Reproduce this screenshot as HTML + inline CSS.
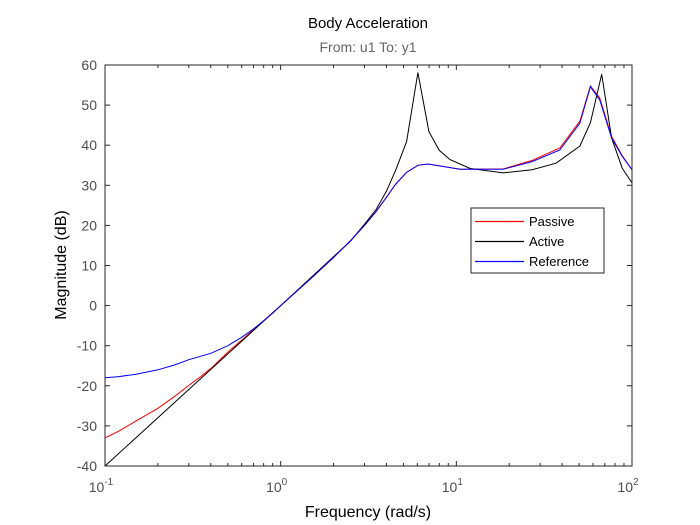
<!DOCTYPE html>
<html><head><meta charset="utf-8"><style>
body{margin:0;background:#fff;}
svg{display:block;font-family:"Liberation Sans",sans-serif;}
</style></head><body>
<svg id="chart" width="700" height="525">
<rect width="700" height="525" fill="#fff"/>
<text x="368" y="28" text-anchor="middle" font-size="15" fill="#000">Body Acceleration</text>
<text x="368" y="52" text-anchor="middle" font-size="14" fill="#666">From: u1  To: y1</text>
<g id="series"></g>
<rect x="105" y="65" width="527" height="401" fill="none" stroke="#262626" stroke-width="1"/>
<g id="ticks"></g>
<text x="368" y="517" text-anchor="middle" font-size="16" fill="#000">Frequency  (rad/s)</text>
<text transform="translate(66,265) rotate(-90)" text-anchor="middle" font-size="16" fill="#000">Magnitude (dB)</text>
<g>
<rect x="471" y="208" width="133" height="65" fill="#fff" stroke="#262626"/>
<path d="M475 221.5H524" style="stroke:#ff0000;stroke-width:1.2;fill:none"/>
<text x="529" y="226" font-size="13">Passive</text>
<path d="M475 241.5H524" style="stroke:#000000;stroke-width:1.2;fill:none"/>
<text x="529" y="246" font-size="13">Active</text>
<path d="M475 261.5H524" style="stroke:#0000ff;stroke-width:1.2;fill:none"/>
<text x="529" y="266" font-size="13">Reference</text>
</g>
</svg>
<script>
const yTicks=[-40,-30,-20,-10,0,10,20,30,40,50,60];
const xDecades=[-1,0,1,2];
const passiveFreq=[0.1,0.12,0.15,0.2,0.25,0.3,0.35,0.41,0.5,0.6,0.7,0.8,1,1.5,2,2.5,3,3.5,4,4.5,5.2,6.04,6.9,10.5,18.5,27,38.8,50.5,58,65.5,76.5,88,100];
const passiveMag=[-33,-31.3,-28.8,-25.6,-22.6,-19.9,-17.7,-15.3,-11.6,-8.6,-6.0,-3.8,0,6.9,12,16.2,20,23.5,27,30.2,33.2,35,35.3,34,34.1,36.2,39.3,46,54.8,51.8,42.2,37.4,33.9];
const activeFreq=[0.1,1,2,2.5,3,3.5,4,4.53,5.21,6.04,6.98,8,9.2,12,18.5,27,37,50.5,58,67.2,76.5,88,100];
const activeMag=[-40,0,12.2,16.1,20.3,24,28.5,33.9,40.9,58.1,43.4,38.7,36.4,34.2,33.1,33.9,35.5,39.8,45.6,57.7,41.8,34.3,30.6];
const refFreq=[0.1,0.12,0.15,0.2,0.25,0.3,0.4,0.5,0.6,0.7,0.8,0.9,1,1.5,2,2.5,3,3.5,4,4.5,5.2,6.04,6.9,10.5,18.5,27,38.8,50.5,58,65.5,76.5,88,100];
const refMag=[-18,-17.7,-17.1,-16,-14.8,-13.5,-11.9,-10,-7.9,-5.8,-3.8,-1.9,0,6.9,12,16.2,20,23.5,27,30.2,33.2,35,35.3,34,34,35.9,38.8,45.5,54.6,51.3,41.8,37.2,33.9];

const L=105,R=632,T=65,B=466;
function xs(f){return L+(Math.log10(f)+1)/3*(R-L);}
function ys(v){return B-(v+40)/100*(B-T);}
const NS="http://www.w3.org/2000/svg";
const tk=document.getElementById('ticks'),sg=document.getElementById('series');
function mk(tag,attrs,parent){const e=document.createElementNS(NS,tag);for(const k in attrs)e.setAttribute(k,attrs[k]);parent.appendChild(e);return e;}
yTicks.forEach(v=>{
  const y=ys(v);
  const l1=mk('line',{x1:L,x2:L+5,y1:y,y2:y,stroke:'#262626'},tk);
  
  
  mk('line',{x1:R-5,x2:R,y1:y,y2:y,stroke:'#262626'},tk);
  const t=mk('text',{x:L-8,y:y+5,'text-anchor':'end','font-size':14,fill:'#4d4d4d'},tk);
  t.textContent=v;
  
  
});
xDecades.forEach(d=>{
  const x=xs(Math.pow(10,d));
  mk('line',{x1:x,x2:x,y1:B,y2:B-5,stroke:'#262626'},tk);
  mk('line',{x1:x,x2:x,y1:T,y2:T+5,stroke:'#262626'},tk);
  const t=mk('text',{x:x-4,y:492,'text-anchor':'middle','font-size':14,fill:'#4d4d4d'},tk);
  
  
  t.appendChild(document.createTextNode('10'));
  const s=mk('tspan',{dy:-7,'font-size':10},t);s.textContent=String(d);
  if(d<2){for(let m=2;m<10;m++){const xm=xs(m*Math.pow(10,d));
    mk('line',{x1:xm,x2:xm,y1:B,y2:B-3,stroke:'#262626'},tk);
    mk('line',{x1:xm,x2:xm,y1:T,y2:T+3,stroke:'#262626'},tk);}}
});
function draw(fr,mg,col,name){
  const p=fr.map((f,i)=>(i?'L':'M')+xs(f).toFixed(1)+','+ys(mg[i]).toFixed(1)).join('');
  const e=mk('path',{d:p,fill:'none',stroke:col,'stroke-width':1},sg);
  
  
}
draw(passiveFreq,passiveMag,'#f00','passive-line');
draw(activeFreq,activeMag,'#000','active-line');
draw(refFreq,refMag,'#00f','reference-line');
</script>
</body></html>
